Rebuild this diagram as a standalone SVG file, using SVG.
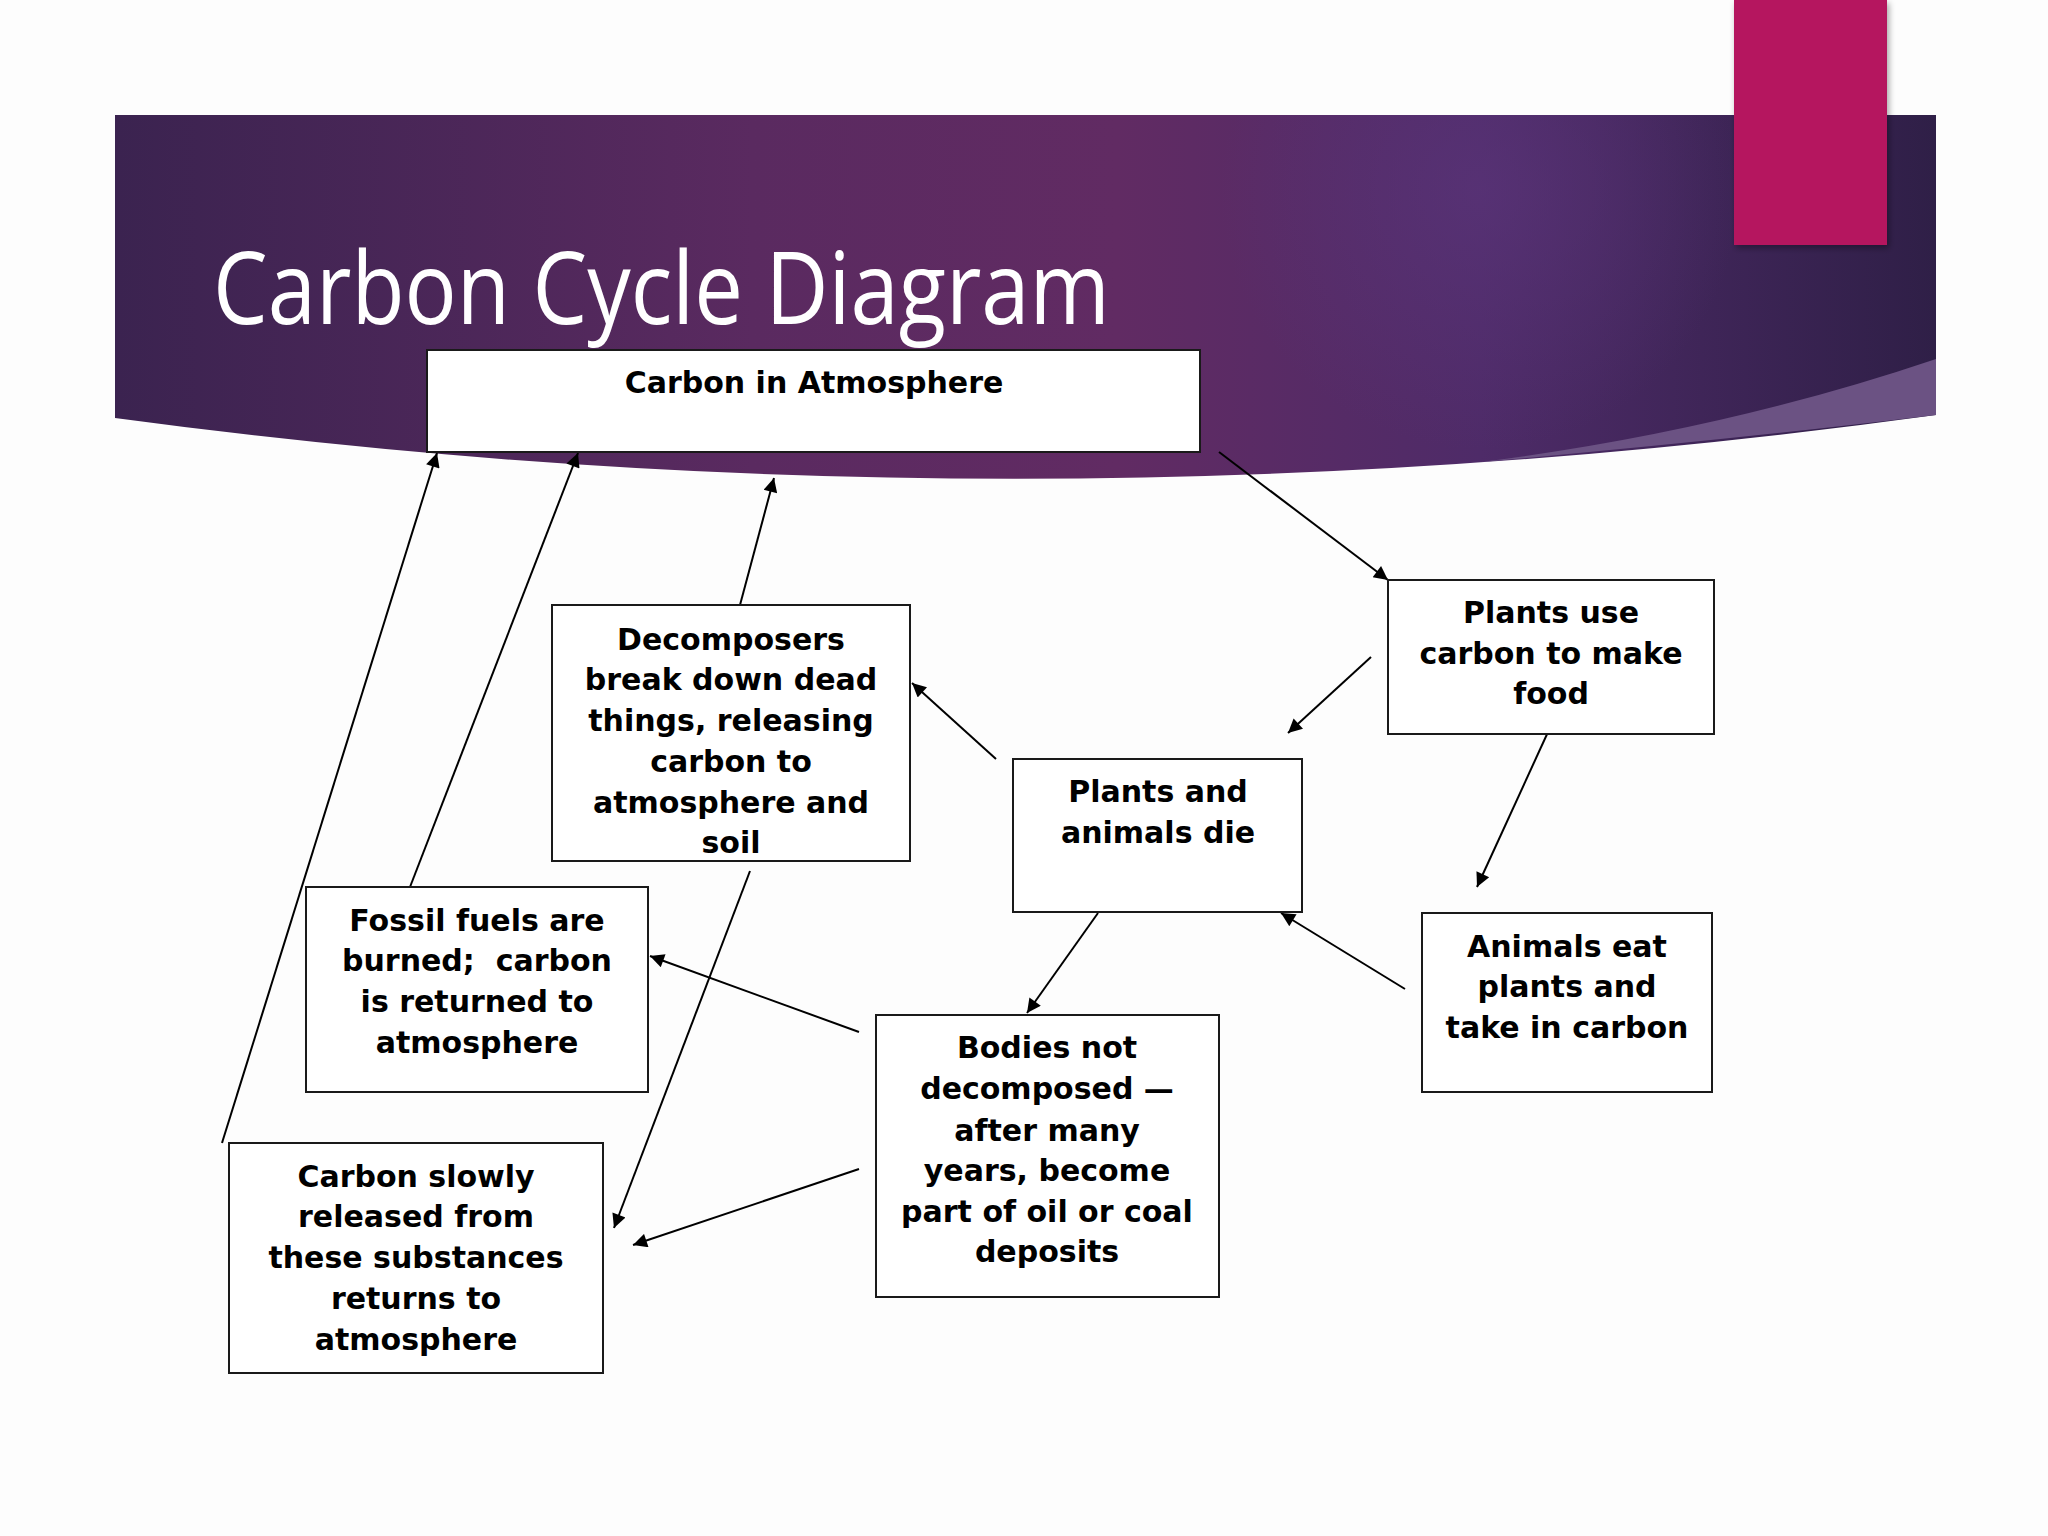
<svg xmlns="http://www.w3.org/2000/svg" width="2048" height="1536" viewBox="0 0 2048 1536">
<defs>
<linearGradient id="bannerG" x1="0" y1="0" x2="1" y2="0">
<stop offset="0" stop-color="#3b2350"/>
<stop offset="0.35" stop-color="#5a2a60"/>
<stop offset="0.55" stop-color="#612b63"/>
<stop offset="0.75" stop-color="#4e2b68"/>
<stop offset="1" stop-color="#2f1f47"/>
</linearGradient>
<radialGradient id="glow" cx="1480" cy="190" r="260" gradientUnits="userSpaceOnUse">
<stop offset="0" stop-color="#5a3479" stop-opacity="0.7"/>
<stop offset="1" stop-color="#5a3479" stop-opacity="0"/>
</radialGradient>
<marker id="arr" viewBox="0 0 10 10" refX="10" refY="5" markerWidth="8" markerHeight="7" markerUnits="strokeWidth" orient="auto">
<path d="M0,0 L10,5 L0,10 z" fill="#000"/>
</marker>
<filter id="sh" x="-10%" y="-10%" width="130%" height="130%">
<feDropShadow dx="2" dy="3" stdDeviation="3" flood-color="#000" flood-opacity="0.35"/>
</filter>
</defs>
<style>
.box{fill:#fff;stroke:#1a1a1a;stroke-width:2}
.t{font-family:"DejaVu Sans",Verdana,sans-serif;font-weight:bold;font-size:30px;fill:#000;text-anchor:middle}
.c{stroke:#000;stroke-width:2;fill:none;marker-end:url(#arr)}
</style>
<rect width="2048" height="1536" fill="#fdfdfd"/>
<g id="banner">
<path d="M115,115 H1936 V415 Q1025,541 115,418 Z" fill="url(#bannerG)"/>
<path d="M115,115 H1936 V415 Q1025,541 115,418 Z" fill="url(#glow)"/>
<path d="M1936,359 Q1720,432 1481,462 Q1730,440 1936,415 Z" fill="#6b5283"/>
<rect x="1734" y="0" width="153" height="245" fill="#b5135f" filter="url(#sh)"/>
<text x="213" y="324" font-family="'Open Sans','Noto Sans',sans-serif" font-size="100" font-weight="500" fill="#fff" textLength="897" lengthAdjust="spacingAndGlyphs">Carbon Cycle Diagram</text>
</g>
<g id="connectors">
<line class="c" x1="1219" y1="452" x2="1388" y2="580"/>
<line class="c" x1="1371" y1="657" x2="1288" y2="733"/>
<line class="c" x1="1559" y1="708" x2="1477" y2="887"/>
<line class="c" x1="1405" y1="989" x2="1281" y2="913"/>
<line class="c" x1="996" y1="759" x2="912" y2="683"/>
<line class="c" x1="740" y1="605" x2="774" y2="478"/>
<line class="c" x1="1098" y1="913" x2="1027" y2="1013"/>
<line class="c" x1="859" y1="1032" x2="650" y2="956"/>
<line class="c" x1="859" y1="1169" x2="633" y2="1245"/>
<line class="c" x1="750" y1="871" x2="614" y2="1228"/>
<line class="c" x1="410" y1="887" x2="578" y2="453"/>
<line class="c" x1="222" y1="1143" x2="437" y2="453"/>
</g>
<g id="n-atmosphere">
<rect class="box" x="427" y="350" width="773" height="102"/>
<text class="t" x="814" y="393">Carbon in Atmosphere</text>
</g>
<g id="n-plants-use">
<rect class="box" x="1388" y="580" width="326" height="154"/>
<text class="t"><tspan x="1551" y="623">Plants use</tspan><tspan x="1551" y="664">carbon to make</tspan><tspan x="1551" y="704">food</tspan></text>
</g>
<g id="n-die">
<rect class="box" x="1013" y="759" width="289" height="153"/>
<text class="t"><tspan x="1158" y="802">Plants and</tspan><tspan x="1158" y="843">animals die</tspan></text>
</g>
<g id="n-animals">
<rect class="box" x="1422" y="913" width="290" height="179"/>
<text class="t"><tspan x="1567" y="957">Animals eat</tspan><tspan x="1567" y="997">plants and</tspan><tspan x="1567" y="1038">take in carbon</tspan></text>
</g>
<g id="n-decomposers">
<rect class="box" x="552" y="605" width="358" height="256"/>
<text class="t"><tspan x="731" y="650">Decomposers</tspan><tspan x="731" y="690">break down dead</tspan><tspan x="731" y="731">things, releasing</tspan><tspan x="731" y="772">carbon to</tspan><tspan x="731" y="813">atmosphere and</tspan><tspan x="731" y="853">soil</tspan></text>
</g>
<g id="n-fossil">
<rect class="box" x="306" y="887" width="342" height="205"/>
<text class="t"><tspan x="477" y="931">Fossil fuels are</tspan><tspan x="477" y="971">burned;&#160; carbon</tspan><tspan x="477" y="1012">is returned to</tspan><tspan x="477" y="1053">atmosphere</tspan></text>
</g>
<g id="n-bodies">
<rect class="box" x="876" y="1015" width="343" height="282"/>
<text class="t"><tspan x="1047" y="1058">Bodies not</tspan><tspan x="1047" y="1099">decomposed —</tspan><tspan x="1047" y="1141">after many</tspan><tspan x="1047" y="1181">years, become</tspan><tspan x="1047" y="1222">part of oil or coal</tspan><tspan x="1047" y="1262">deposits</tspan></text>
</g>
<g id="n-slowly">
<rect class="box" x="229" y="1143" width="374" height="230"/>
<text class="t"><tspan x="416" y="1187">Carbon slowly</tspan><tspan x="416" y="1227">released from</tspan><tspan x="416" y="1268">these substances</tspan><tspan x="416" y="1309">returns to</tspan><tspan x="416" y="1350">atmosphere</tspan></text>
</g>
</svg>
